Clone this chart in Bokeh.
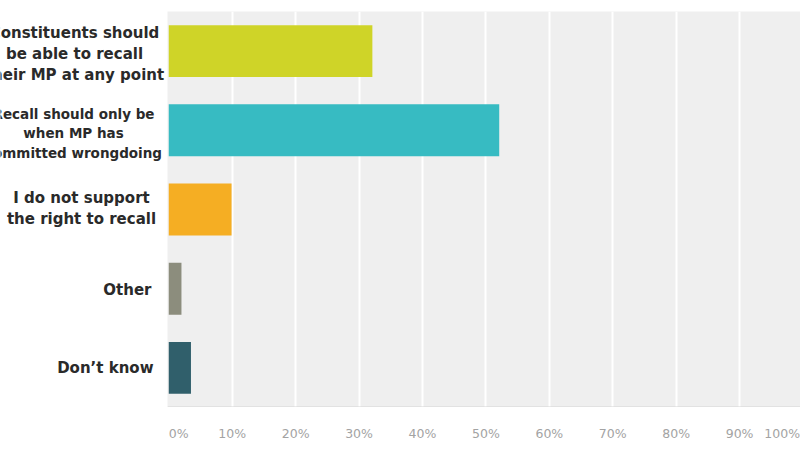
from bokeh.plotting import figure
from bokeh.layouts import column, row
from bokeh.models import Range1d, Grid, FixedTicker, Span, ColumnDataSource
from bokeh.core.properties import value
from bokeh.embed import file_html
from bokeh.resources import INLINE

# ---- data ----
categories = [
    "Constituents should be able to recall their MP at any point",
    "Recall should only be when MP has committed wrongdoing",
    "I do not support the right to recall",
    "Other",
    "Don’t know",
]
label_lines = [
    ["Constituents should", "be able to recall", "their MP at any point"],
    ["Recall should only be", "when MP has", "committed wrongdoing"],
    ["I do not support", "the right to recall"],
    ["Other"],
    ["Don’t know"],
]
percent = [32.1, 52.1, 9.9, 2.0, 3.5]
bar_colors = ["#cfd428", "#37bbc2", "#f5ae23", "#8c8d7d", "#305f6b"]
tick_values = [0, 10, 20, 30, 40, 50, 60, 70, 80, 90, 100]
tick_labels = ["0%", "10%", "20%", "30%", "40%", "50%", "60%", "70%", "80%", "90%", "100%"]

# ---- layout / style (not data) ----
LEFT_W = 167          # width of label column (px)
MAIN_W = 633          # width of plot frame (px)
TOP = 11              # white band above plot frame
MAIN_H = 407          # bottom of plot frame
BOT_H = 42            # tick label strip
label_anchor_px = [74, 73, 81, 151, 153]
label_align = ["center", "center", "center", "right", "right"]
label_size = [15, 13.5, 15, 15, 15]
label_spacing = [21.3, 19.6, 21.7, 0, 0]
label_drop = [3, 3, -1, 1, 0]

n = len(categories)
y_pos = [i + 0.5 for i in range(n)]
shared_y = Range1d(n, 0)
shared_x = Range1d(-0.2, 99.6)

# ---- main plot ----
p = figure(width=MAIN_W, height=MAIN_H, output_backend="svg", toolbar_location=None,
           x_range=shared_x, y_range=shared_y, x_axis_type=None, y_axis_type=None,
           min_border_left=0, min_border_right=0, min_border_top=TOP, min_border_bottom=0)
p.background_fill_color = "#efefef"
p.border_fill_color = "white"
p.outline_line_color = None
p.add_layout(Grid(dimension=0, ticker=FixedTicker(ticks=tick_values[1:-1]),
                  grid_line_color="white", grid_line_width=2))
src = ColumnDataSource(dict(y=y_pos, right=percent, color=bar_colors, cat=categories))
p.hbar(y="y", left=0, right="right", height=0.655, fill_color="color", line_color=None, source=src)
p.add_layout(Span(location=n, dimension="width", line_color="#d6d6d6", line_width=2))

# ---- category labels ----
lx, ly, lt, loff, lsize, lal = [], [], [], [], [], []
for i, lines in enumerate(label_lines):
    k = len(lines)
    for j, line in enumerate(lines):
        lx.append(label_anchor_px[i])
        ly.append(y_pos[i])
        lt.append(line)
        loff.append(label_drop[i] + (j - (k - 1) / 2) * label_spacing[i])
        lsize.append(f"{label_size[i]}px")
        lal.append(label_align[i])
lsrc = ColumnDataSource(dict(x=lx, y=ly, text=lt, yoff=loff, size=lsize, align=lal))

left = figure(width=LEFT_W, height=MAIN_H, output_backend="svg", toolbar_location=None,
              x_range=Range1d(0, LEFT_W), y_range=shared_y, x_axis_type=None, y_axis_type=None,
              min_border_left=0, min_border_right=0, min_border_top=TOP, min_border_bottom=0)
left.outline_line_color = None
left.background_fill_color = "white"
left.border_fill_color = "white"
left.text(x="x", y="y", text="text", y_offset="yoff", text_font_size="size",
          text_align="align", text_baseline="alphabetic", text_font=value("DejaVu Sans"),
          text_font_style=value("bold"), text_color="#2a2a2a", source=lsrc)

# ---- x tick labels ----
tal = ["left" if v == tick_values[0] else ("right" if v == tick_values[-1] else "center")
       for v in tick_values]
txoff = [-3 if v == tick_values[-1] else 0 for v in tick_values]
tsrc = ColumnDataSource(dict(x=tick_values, text=tick_labels, align=tal, xoff=txoff,
                             y=[BOT_H - 26] * len(tick_values)))
bot = figure(width=LEFT_W + MAIN_W, height=BOT_H, output_backend="svg", toolbar_location=None,
             x_range=shared_x, y_range=Range1d(0, BOT_H), x_axis_type=None, y_axis_type=None,
             min_border_left=LEFT_W, min_border_right=0, min_border_top=0, min_border_bottom=0)
bot.outline_line_color = None
bot.background_fill_color = "white"
bot.border_fill_color = "white"
bot.text(x="x", y="y", text="text", x_offset="xoff", text_align="align", text_baseline="alphabetic",
         text_font=value("DejaVu Sans"), text_font_size="12.5px", text_color="#a3a3a3", source=tsrc)

layout = column(row(left, p, spacing=0), bot, spacing=0)
open("out.html", "w").write(file_html(layout, INLINE))
